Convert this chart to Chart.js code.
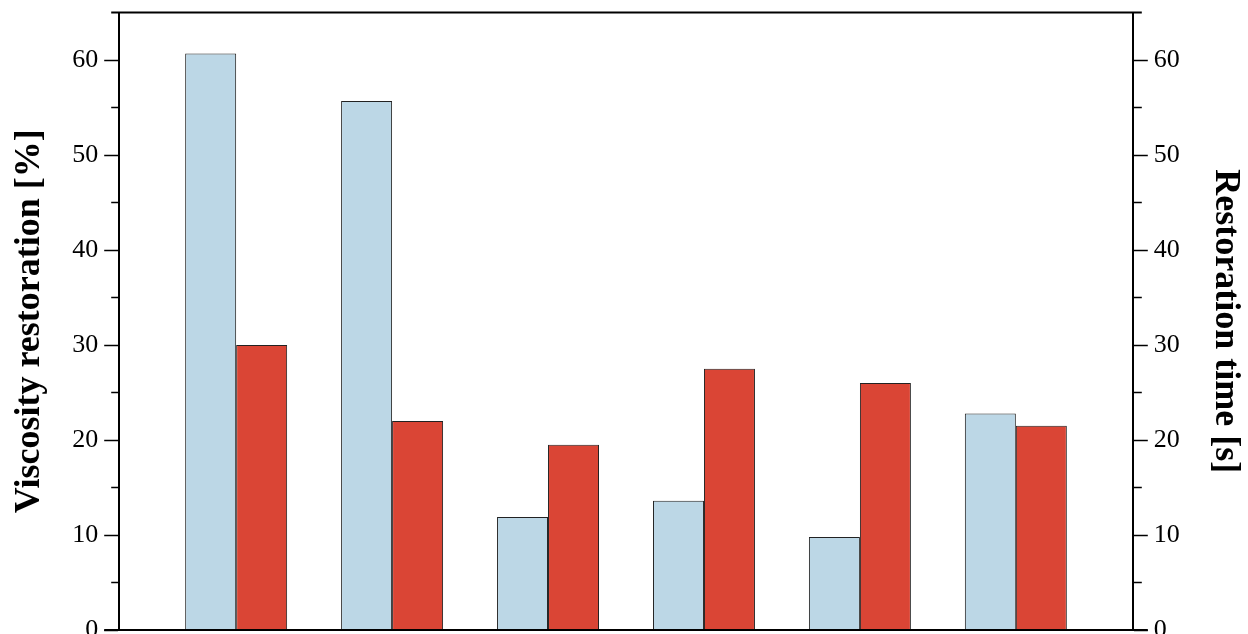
<!DOCTYPE html>
<html>
<head>
<meta charset="utf-8">
<script src="https://cdn.jsdelivr.net/npm/chart.js@4.4.1/dist/chart.umd.min.js"></script>
<style>
  html, body { margin: 0; padding: 0; background: #fff; overflow: hidden; }
  #wrap { width: 1248px; height: 634px; overflow: hidden; }
  #canvas { display: block; margin-top: -9px; }
</style>
</head>
<body>
<div id="wrap"><canvas id="canvas" width="1248" height="670"></canvas></div>
<script>
var positions = [0, 1, 2, 3, 4, 5];
var viscosityRestoration = [60.7, 55.7, 11.9, 13.6, 9.8, 22.8];
var restorationTime = [30.0, 22.0, 19.5, 27.5, 26.0, 21.5];
var majorTicks = [0, 10, 20, 30, 40, 50, 60];
var minorTicks = [5, 15, 25, 35, 45, 55];

function toPoints(values) {
    return values.map(function (v, i) { return { x: positions[i], y: v }; });
}

var serif = 'Liberation Serif, Times New Roman, serif';

// frame lines and minor ticks
var framePlugin = {
    id: 'frame',
    afterDraw: function (chart) {
        var ctx = chart.ctx;
        var a = chart.chartArea;
        var yl = chart.scales.y;
        var yr = chart.scales.y1;
        ctx.save();
        ctx.strokeStyle = '#000';
        ctx.lineWidth = 2;
        ctx.beginPath();
        ctx.moveTo(a.left - 8, a.top);
        ctx.lineTo(a.right + 9, a.top);
        ctx.moveTo(a.left - 15, a.bottom);
        ctx.lineTo(a.right + 15, a.bottom);
        ctx.stroke();
        ctx.lineWidth = 1.5;
        ctx.beginPath();
        minorTicks.forEach(function (v) {
            var p = yl.getPixelForValue(v);
            ctx.moveTo(a.left - 8, p);
            ctx.lineTo(a.left, p);
            var q = yr.getPixelForValue(v);
            ctx.moveTo(a.right, q);
            ctx.lineTo(a.right + 9, q);
        });
        ctx.stroke();
        ctx.restore();
    }
};

function axisOptions(position, title, titleGap) {
    return {
        type: 'linear',
        position: position,
        min: 0,
        max: 65,
        afterBuildTicks: function (scale) {
            scale.ticks = majorTicks.map(function (v) { return { value: v }; });
        },
        border: { display: true, color: '#000', width: 2 },
        grid: {
            display: true,
            drawOnChartArea: false,
            drawTicks: true,
            tickLength: 15,
            tickWidth: 1.5,
            tickColor: '#000'
        },
        ticks: {
            color: '#000',
            padding: 6,
            font: { family: serif, size: 26 }
        },
        title: {
            display: true,
            text: title,
            color: '#000',
            padding: { top: 0, bottom: titleGap },
            font: { family: serif, size: 36, weight: 'bold' }
        }
    };
}

window.onload = function () {
    var ctx = document.getElementById('canvas').getContext('2d');
    new Chart(ctx, {
        type: 'bar',
        data: {
            datasets: [{
                label: 'Viscosity restoration',
                data: toPoints(viscosityRestoration),
                backgroundColor: '#bcd7e6',
                borderColor: '#222',
                borderWidth: 1,
                yAxisID: 'y',
                categoryPercentage: 0.654,
                barPercentage: 1
            }, {
                label: 'Restoration time',
                data: toPoints(restorationTime),
                backgroundColor: '#da4535',
                borderColor: '#222',
                borderWidth: 1,
                yAxisID: 'y1',
                categoryPercentage: 0.654,
                barPercentage: 1
            }]
        },
        options: {
            responsive: false,
            animation: false,
            layout: { padding: { left: 8, right: 1, top: 6, bottom: 31 } },
            plugins: {
                legend: { display: false },
                tooltip: { enabled: false }
            },
            scales: {
                x: {
                    type: 'linear',
                    min: -0.75,
                    max: 5.75,
                    offset: false,
                    display: false,
                    afterBuildTicks: function (scale) {
                        scale.ticks = positions.map(function (v) { return { value: v }; });
                    }
                },
                y: axisOptions('left', 'Viscosity restoration [%]', 15),
                y1: axisOptions('right', 'Restoration time [s]', 18)
            }
        },
        plugins: [framePlugin]
    });
};
</script>
</body>
</html>
